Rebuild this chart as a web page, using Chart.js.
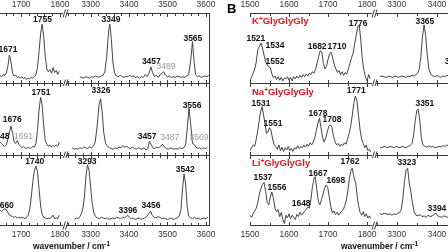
<!DOCTYPE html>
<html lang="en">
<head>
<meta charset="UTF-8">
<script src="https://cdn.jsdelivr.net/npm/chart.js"></script>
<title>IRMPD spectra GlyGlyGly</title>
<style>
  html, body { margin: 0; padding: 0; background: #fff; }
  body { position: relative; width: 448px; height: 252px; overflow: hidden;
         font-family: "Liberation Sans", Arial, Helvetica, sans-serif; }
  canvas { position: absolute; }
  .txt { position: absolute; white-space: nowrap; z-index: 2; }
  .letter { left: 227px; top: 2px; font: bold 13px/13px "Liberation Sans", Arial, sans-serif; color: #000; }
  .ion { left: 252px; font: bold 9.5px/10px "Liberation Sans", Arial, sans-serif; color: #e8121c; }
  .ion sup, .xt sup { font-size: 6.5px; line-height: 0; vertical-align: 3px; }
  .xt { top: 241px; font: bold 8.5px/10px "Liberation Sans", Arial, sans-serif; color: #111; }
</style>
</head>
<body>
<div class="txt letter">B</div>
<div class="txt ion" style="top:16px">K<sup>+</sup>GlyGlyGly</div>
<div class="txt ion" style="top:87px">Na<sup>+</sup>GlyGlyGly</div>
<div class="txt ion" style="top:158px">Li<sup>+</sup>GlyGlyGly</div>
<div class="txt xt" style="left:33px">wavenumber / cm<sup>-1</sup></div>
<div class="txt xt" style="left:341px">wavenumber / cm<sup>-1</sup></div>
<script>
// tick labels
const tickLabA = [1700, 1800, 3300, 3400, 3500, 3600];
const tickLabB = [1500, 1600, 1700, 1800, 3300, 3400, 3500, 3600];

// panel A spectra, [wavenumber, intensity]
const a1Lo = [[1638,11],[1642,10],[1646,11],[1650,9],[1654,12],[1658,11],[1662,14],[1666,24],[1670,40],[1674,30],[1678,14],[1682,10],[1686,11],[1690,8],[1694,9],[1698,7],[1702,9],[1706,6],[1710,8],[1714,5],[1718,7],[1722,6],[1726,8],[1730,7],[1734,9],[1738,12],[1742,22],[1746,45],[1750,70],[1754,84],[1758,66],[1762,38],[1766,20],[1770,16],[1774,19],[1778,14],[1782,22],[1786,15],[1790,18],[1794,12],[1798,17]];
const a1Hi = [[3272,9],[3277,8],[3282,7],[3287,9],[3292,8],[3297,7],[3302,9],[3307,8],[3312,10],[3317,9],[3322,8],[3327,10],[3332,11],[3337,16],[3342,38],[3347,75],[3350,84],[3354,62],[3358,30],[3362,15],[3367,10],[3372,9],[3377,11],[3382,9],[3387,8],[3392,10],[3397,9],[3402,11],[3407,9],[3412,10],[3417,8],[3422,9],[3427,7],[3432,9],[3437,8],[3442,12],[3447,9],[3452,14],[3457,23],[3461,15],[3466,9],[3471,11],[3476,8],[3481,12],[3486,14],[3490,16],[3495,11],[3500,9],[3505,10],[3510,8],[3515,9],[3520,8],[3525,10],[3530,9],[3535,8],[3540,9],[3545,8],[3550,10],[3555,12],[3560,30],[3565,59],[3569,32],[3573,12],[3578,9],[3583,10],[3588,8],[3593,9],[3598,10],[3603,9],[3607,11]];
const a2Lo = [[1638,21],[1642,20],[1646,18],[1650,16],[1654,13],[1658,12],[1662,14],[1666,22],[1670,32],[1674,40],[1678,31],[1682,18],[1686,16],[1690,20],[1694,15],[1698,12],[1702,10],[1706,12],[1710,10],[1714,9],[1718,11],[1722,9],[1726,10],[1730,12],[1734,11],[1738,16],[1742,34],[1746,62],[1750,80],[1754,70],[1758,40],[1762,20],[1766,15],[1770,12],[1774,14],[1778,11],[1782,13],[1786,12],[1790,14],[1794,12],[1798,18]];
const a2Hi = [[3252,10],[3257,8],[3262,9],[3267,8],[3272,10],[3277,9],[3282,11],[3287,10],[3292,9],[3297,11],[3302,10],[3307,12],[3312,18],[3317,40],[3322,70],[3326,78],[3330,60],[3334,32],[3339,16],[3344,12],[3349,10],[3354,9],[3359,8],[3364,10],[3369,9],[3374,11],[3379,10],[3384,13],[3389,11],[3394,12],[3399,10],[3404,9],[3409,11],[3414,9],[3419,8],[3424,10],[3429,9],[3434,8],[3439,10],[3444,7],[3449,9],[3453,19],[3458,14],[3462,10],[3467,9],[3472,11],[3477,10],[3482,12],[3487,15],[3492,11],[3497,9],[3502,8],[3507,10],[3512,9],[3517,8],[3522,9],[3527,8],[3532,10],[3537,9],[3542,10],[3547,14],[3552,40],[3556,65],[3560,45],[3565,16],[3569,15],[3574,11],[3579,9],[3584,10],[3589,8],[3594,10],[3599,9],[3604,11]];
const a3Lo = [[1638,19],[1642,20],[1646,21],[1650,19],[1654,22],[1658,23],[1662,22],[1666,18],[1670,14],[1674,13],[1678,12],[1682,11],[1686,12],[1690,10],[1694,11],[1698,10],[1702,11],[1706,10],[1710,9],[1714,11],[1718,14],[1722,22],[1726,40],[1730,62],[1734,78],[1738,84],[1742,76],[1746,52],[1750,28],[1754,15],[1758,11],[1762,10],[1766,9],[1770,10],[1774,9],[1778,11],[1782,14],[1786,9],[1790,10],[1794,9],[1798,14]];
const a3Hi = [[3258,8],[3263,10],[3268,9],[3272,12],[3276,16],[3280,24],[3284,40],[3288,70],[3292,86],[3296,78],[3300,55],[3304,32],[3308,18],[3313,12],[3318,10],[3323,9],[3328,11],[3333,10],[3338,9],[3343,10],[3348,8],[3353,9],[3358,10],[3363,9],[3368,11],[3373,10],[3378,9],[3383,11],[3388,10],[3393,12],[3397,14],[3401,11],[3406,9],[3411,10],[3416,8],[3421,9],[3426,10],[3431,8],[3436,9],[3441,10],[3446,12],[3451,16],[3456,20],[3460,14],[3465,11],[3470,10],[3475,12],[3480,11],[3485,9],[3490,10],[3495,9],[3500,8],[3505,9],[3510,10],[3515,8],[3520,9],[3525,10],[3530,12],[3535,22],[3539,50],[3543,73],[3547,60],[3551,28],[3555,13],[3560,10],[3565,9],[3570,11],[3575,9],[3580,10],[3585,8],[3590,9],[3595,10],[3600,9],[3605,11]];

// panel B spectra
const kLo = [[1500,4],[1504,8],[1508,14],[1512,20],[1516,30],[1520,48],[1524,52],[1528,57],[1532,50],[1536,40],[1540,30],[1544,26],[1548,23],[1552,22],[1556,13],[1560,8],[1564,10],[1568,5],[1572,9],[1576,4],[1580,8],[1584,3],[1588,7],[1592,6],[1596,9],[1600,4],[1604,8],[1608,3],[1612,9],[1616,6],[1620,10],[1624,7],[1628,11],[1632,8],[1636,12],[1640,9],[1644,13],[1648,10],[1652,14],[1656,12],[1660,16],[1664,14],[1668,20],[1672,28],[1676,38],[1680,46],[1684,44],[1688,28],[1692,20],[1696,24],[1700,34],[1704,42],[1708,44],[1712,36],[1716,26],[1720,20],[1724,15],[1728,18],[1732,12],[1736,16],[1740,11],[1744,15],[1748,13],[1752,20],[1756,28],[1760,36],[1764,42],[1768,55],[1772,68],[1776,80],[1780,83],[1784,60],[1788,33],[1792,18],[1796,8],[1800,3],[1804,12],[1808,6]];
const kHi = [[3258,9],[3263,10],[3268,9],[3273,8],[3278,9],[3283,10],[3288,8],[3293,9],[3298,10],[3303,8],[3308,9],[3313,10],[3318,9],[3323,8],[3328,10],[3333,9],[3338,11],[3343,10],[3348,12],[3352,14],[3356,20],[3360,38],[3364,66],[3368,83],[3372,68],[3376,40],[3380,20],[3385,12],[3390,10],[3395,9],[3400,11],[3405,9],[3410,8],[3415,10],[3420,9],[3425,11],[3430,10],[3435,12],[3440,14],[3445,18],[3450,13],[3455,10],[3460,9],[3465,10]];
const naLo = [[1500,6],[1504,10],[1508,14],[1512,12],[1516,22],[1520,34],[1524,50],[1528,62],[1531,67],[1534,58],[1538,45],[1542,30],[1546,32],[1550,38],[1554,34],[1558,22],[1562,14],[1566,12],[1570,8],[1574,14],[1578,6],[1582,11],[1586,5],[1590,10],[1594,7],[1598,12],[1602,6],[1606,9],[1610,5],[1614,10],[1618,8],[1622,13],[1626,9],[1630,12],[1634,10],[1638,14],[1642,11],[1646,15],[1650,12],[1654,17],[1658,14],[1662,18],[1666,24],[1670,34],[1674,44],[1678,51],[1682,38],[1686,24],[1690,18],[1694,24],[1698,32],[1702,40],[1706,42],[1710,38],[1714,26],[1718,18],[1722,14],[1726,16],[1730,12],[1734,15],[1738,13],[1742,17],[1746,15],[1750,22],[1754,30],[1758,40],[1762,55],[1766,72],[1770,82],[1774,75],[1778,55],[1782,35],[1786,22],[1790,16],[1794,10],[1798,14],[1802,6],[1806,8],[1809,4]];
const naHi = [[3258,11],[3263,10],[3268,12],[3273,11],[3278,10],[3283,12],[3288,11],[3293,10],[3298,12],[3303,11],[3308,10],[3313,12],[3318,11],[3323,10],[3328,12],[3333,13],[3338,16],[3342,28],[3346,48],[3350,62],[3353,64],[3357,50],[3361,25],[3365,14],[3370,12],[3375,11],[3380,13],[3385,11],[3390,12],[3395,10],[3400,11],[3405,12],[3410,11],[3415,13],[3420,12],[3425,14],[3430,12],[3435,11],[3440,13],[3445,12],[3450,11],[3455,12],[3460,11]];
const liLo = [[1500,14],[1504,11],[1508,16],[1512,20],[1516,24],[1520,32],[1524,44],[1528,52],[1532,58],[1536,61],[1540,48],[1544,32],[1548,29],[1552,40],[1556,47],[1560,38],[1564,24],[1568,19],[1572,22],[1576,12],[1580,18],[1584,8],[1588,2],[1592,14],[1596,10],[1600,16],[1604,9],[1608,14],[1612,11],[1616,8],[1620,15],[1624,12],[1628,18],[1632,14],[1636,17],[1640,20],[1644,22],[1648,26],[1652,24],[1656,36],[1660,55],[1664,66],[1667,69],[1671,52],[1675,34],[1679,29],[1683,36],[1687,44],[1691,52],[1695,57],[1699,54],[1703,40],[1707,26],[1711,17],[1715,20],[1719,15],[1723,18],[1727,14],[1731,17],[1735,20],[1739,22],[1743,28],[1747,36],[1751,50],[1755,68],[1759,78],[1762,81],[1765,72],[1768,64],[1771,60],[1774,44],[1778,28],[1782,18],[1786,14],[1790,19],[1794,12],[1798,16],[1802,10],[1806,13],[1809,9]];
const liHi = [[3258,16],[3263,15],[3268,17],[3273,16],[3278,15],[3283,16],[3288,14],[3293,16],[3298,15],[3303,17],[3307,18],[3311,22],[3315,38],[3319,62],[3323,78],[3327,81],[3331,60],[3335,47],[3339,32],[3343,19],[3348,14],[3353,13],[3358,15],[3363,12],[3368,13],[3373,11],[3378,14],[3383,12],[3388,13],[3393,15],[3398,17],[3402,13],[3407,12],[3412,11],[3417,13],[3422,12],[3427,11],[3432,12],[3437,13],[3442,11],[3447,12]];

// peak labels: [wavenumber, height, text, grey]
const pA1Lo = [[1666,47,'1671'],[1755,90,'1755']];
const pA1Hi = [[3353,90,'3349'],[3458,30,'3457'],[3496,23,'3489',1],[3566,64,'3565']];
const pA2Lo = [[1646,26,'1648'],[1677,49,'1676'],[1706,26,'1691',1],[1751,87,'1751']];
const pA2Hi = [[3327,89,'3326'],[3447,25,'3457'],[3506,24,'3487',1],[3582,24,'3569',1],[3564,69,'3556']];
const pA3Lo = [[1657,27,'1660'],[1735,90,'1740']];
const pA3Hi = [[3291,91,'3293'],[3397,21,'3396'],[3457,27,'3456'],[3546,79,'3542']];
const pKLo = [[1515,64,'1521'],[1564,53,'1534'],[1564,31,'1552'],[1672,52,'1682'],[1723,52,'1710'],[1777,85,'1776']];
const pKHi = [[3370,87,'3365'],[3443,30,'3446']];
const pNaLo = [[1528,71,'1531'],[1559,43,'1551'],[1674,58,'1678'],[1710,49,'1708'],[1772,90,'1771']];
const pNaHi = [[3370,72,'3351']];
const pLiLo = [[1533,67,'1537'],[1569,54,'1556'],[1631,30,'1648'],[1674,73,'1667'],[1720,64,'1698'],[1756,90,'1762']];
const pLiHi = [[3325,89,'3323'],[3400,24,'3394']];

const FRAME = '#3a3a3a';
const rowTop = [13, 83, 155];
const rowBot = [83, 155, 225];

Chart.defaults.font.family = '"Liberation Sans", Arial, Helvetica, sans-serif';
Chart.defaults.font.size = 8.5;
Chart.defaults.color = '#333';

// inward tick marks + axis break marks
const frameTicks = {
    id: 'frameTicks',
    afterDraw(chart, args, o) {
        const { ctx, chartArea: a, scales: { x } } = chart;
        ctx.save();
        ctx.strokeStyle = FRAME;
        ctx.lineWidth = 1;
        ctx.beginPath();
        x.ticks.forEach(t => {
            const px = Math.round(x.getPixelForValue(t.value)) + 0.5;
            const len = t.value % 100 === 0 ? 3.5 : 2.5;
            ctx.moveTo(px, a.top + 0.5); ctx.lineTo(px, a.top + 0.5 + len);
            ctx.moveTo(px, a.bottom + 0.5); ctx.lineTo(px, a.bottom + 0.5 - len);
        });
        ctx.stroke();
        if (o.brk) {
            const ys = o.brkTop ? [a.top + 0.5, a.bottom + 0.5] : [a.bottom + 0.5];
            ctx.beginPath();
            ys.forEach(y => {
                for (let i = 0; i < 2; i++) {
                    const x0 = a.right + 1 + 2.5 * i;
                    ctx.moveTo(x0, y + 4);
                    ctx.lineTo(x0 + 2.5, y - 4);
                }
            });
            ctx.stroke();
        }
        ctx.restore();
    }
};

// peak position labels
const peakText = {
    id: 'peakText',
    afterDatasetsDraw(chart, args, o) {
        const { ctx, scales: { x, y } } = chart;
        ctx.save();
        ctx.textAlign = 'center';
        ctx.textBaseline = 'middle';
        (o.items || []).forEach(p => {
            ctx.font = (p[3] ? '' : 'bold ') + '8.5px "Liberation Sans", Arial, sans-serif';
            ctx.fillStyle = p[3] ? '#999' : '#111';
            ctx.fillText(p[2], x.getPixelForValue(p[0]), y.getPixelForValue(p[1]));
        });
        ctx.restore();
    }
};

function makeChart(seg, r, trace, peaks, first) {
    const topH = r === 0 ? 13 : 0;
    const botH = r === 2 ? 16 : 0;
    const padT = r === 0 ? 0 : 4;
    const padB = r === 2 ? 0 : 3;
    const padL = 12, padR = 12;
    const cv = document.createElement('canvas');
    cv.width = seg.r - seg.l + padL + padR;
    cv.height = rowBot[r] - rowTop[r] + topH + botH + padT + padB;
    cv.style.left = (seg.l - padL) + 'px';
    cv.style.top = (rowTop[r] - topH - padT) + 'px';
    document.body.appendChild(cv);

    const axisX = (pos, show, size, pad) => ({
        type: 'linear', position: pos, min: seg.min, max: seg.max,
        afterFit: s => { s.height = size; s.paddingLeft = 0; s.paddingRight = 0; },
        grid: { drawOnChartArea: false, drawTicks: false },
        border: { display: true, color: FRAME, width: 1 },
        ticks: {
            display: show, stepSize: seg.step, maxTicksLimit: 1000, autoSkip: false,
            maxRotation: 0, minRotation: 0, includeBounds: false, padding: pad, color: '#333',
            callback: v => seg.labels.includes(v) ? String(v) : ''
        }
    });

    return new Chart(cv, {
        type: 'line',
        data: {
            datasets: [{
                data: trace.map(p => ({ x: p[0], y: p[1] })),
                borderColor: '#303030', borderWidth: 0.9, pointRadius: 0, tension: 0, fill: false
            }]
        },
        options: {
            responsive: false,
            animation: false,
            layout: { padding: { left: padL, right: padR, top: padT, bottom: padB } },
            scales: {
                x: axisX('bottom', r === 2, botH, 5),
                x2: axisX('top', r === 0, topH, 3),
                y: {
                    min: 0, max: 100, position: 'right', display: !first,
                    afterFit: s => { s.width = 0; },
                    ticks: { display: false },
                    grid: { drawOnChartArea: false, drawTicks: false },
                    border: { display: true, color: FRAME, width: 1 }
                }
            },
            plugins: {
                legend: { display: false },
                tooltip: { enabled: false },
                frameTicks: { brk: first, brkTop: r === 0 },
                peakText: { items: peaks }
            }
        },
        plugins: [frameTicks, peakText]
    });
}

const segA = [
    { l: -3, r: 62, min: 1638, max: 1805, step: 20, labels: tickLabA },
    { l: 66, r: 209, min: 3236, max: 3608, step: 20, labels: tickLabA }
];
const segB = [
    { l: 250, r: 371, min: 1500, max: 1810, step: 50, labels: tickLabB },
    { l: 376, r: 525, min: 3248, max: 3620, step: 50, labels: tickLabB }
];

const tracesA = [[a1Lo, a1Hi], [a2Lo, a2Hi], [a3Lo, a3Hi]];
const peaksA = [[pA1Lo, pA1Hi], [pA2Lo, pA2Hi], [pA3Lo, pA3Hi]];
const tracesB = [[kLo, kHi], [naLo, naHi], [liLo, liHi]];
const peaksB = [[pKLo, pKHi], [pNaLo, pNaHi], [pLiLo, pLiHi]];

for (let r = 0; r < 3; r++) {
    makeChart(segA[0], r, tracesA[r][0], peaksA[r][0], true);
    makeChart(segA[1], r, tracesA[r][1], peaksA[r][1], false);
    makeChart(segB[0], r, tracesB[r][0], peaksB[r][0], true);
    makeChart(segB[1], r, tracesB[r][1], peaksB[r][1], false);
}
</script>
</body>
</html>
